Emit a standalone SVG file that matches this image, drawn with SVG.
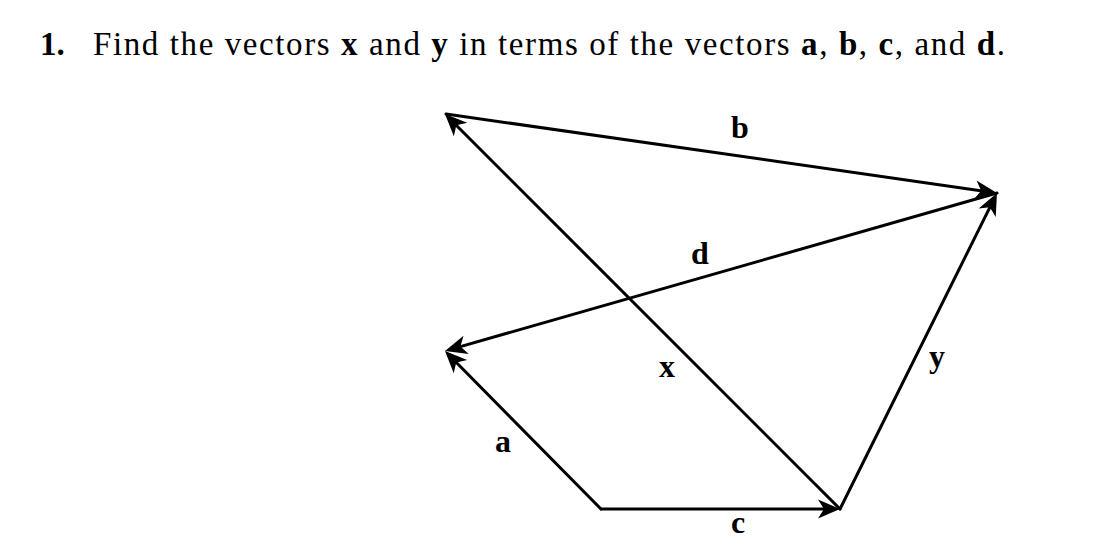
<svg xmlns="http://www.w3.org/2000/svg" width="1108" height="550" viewBox="0 0 1108 550">
<style>
.t{font-family:"Liberation Serif","Times New Roman",serif;font-size:33px;fill:#000}
.b{font-weight:bold}
.lbl{font-family:"Liberation Serif","Times New Roman",serif;font-size:32px;font-weight:bold;fill:#000;text-anchor:middle}
.v{fill:none;stroke:#000;stroke-width:3;stroke-linecap:round;marker-end:url(#ah)}
</style>
<defs>
<marker id="ah" markerUnits="userSpaceOnUse" orient="auto" refX="-6" refY="0" markerWidth="30" markerHeight="24" overflow="visible">
<path d="M0,0 L-22,-9.5 L-16,0 L-22,9.5 Z" fill="#000"/>
</marker>
</defs>
<rect width="1108" height="550" fill="#fff"/>
<text class="t" x="40" y="55"><tspan class="b">1.</tspan></text>
<text class="t" x="93" y="55" textLength="912" lengthAdjust="spacing">Find the vectors <tspan class="b">x</tspan> and <tspan class="b">y</tspan> in terms of the vectors <tspan class="b">a</tspan>, <tspan class="b">b</tspan>, <tspan class="b">c</tspan>, and <tspan class="b">d</tspan>.</text>
<g id="connectors">
<path id="vb" class="v" d="M446,114 L991.06,192.15"/>
<path id="vd" class="v" d="M997,193 L450.77,349.35"/>
<path id="vx" class="v" d="M840,509 L449.24,118.24"/>
<path id="va" class="v" d="M601,509 L449.22,355.27"/>
<path id="vc" class="v" d="M601,509 L834,509"/>
<path id="vy" class="v" d="M840,509 L994.33,198.37"/>
</g>
<g id="labels">
<text class="lbl" x="740" y="138">b</text>
<text class="lbl" x="700" y="264">d</text>
<text class="lbl" x="667" y="377">x</text>
<text class="lbl" x="937" y="367">y</text>
<text class="lbl" x="503" y="452">a</text>
<text class="lbl" x="738" y="533">c</text>
</g>
</svg>
